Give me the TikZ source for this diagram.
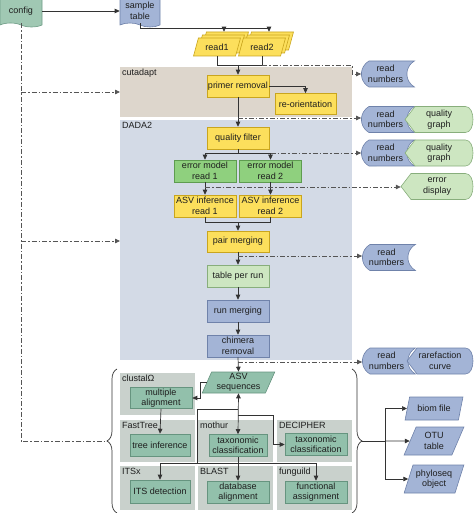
\documentclass[tikz,border=0pt]{standalone}
\usepackage{fontspec}
\setmainfont{Liberation Sans}
\usetikzlibrary{arrows.meta,shapes.geometric,shapes.misc,shapes.symbols,shadows,decorations.pathreplacing,calc}
\definecolor{txt}{HTML}{1E1E1E}
\definecolor{yfill}{HTML}{FCDF5C}
\definecolor{ydraw}{HTML}{C9A51E}
\definecolor{gfill}{HTML}{8FD07E}
\definecolor{gdraw}{HTML}{5E9C50}
\definecolor{lgfill}{HTML}{CDE6C1}
\definecolor{lgdraw}{HTML}{88AE7C}
\definecolor{bfill}{HTML}{A3B4D6}
\definecolor{bdraw}{HTML}{6F82AA}
\definecolor{tfill}{HTML}{92C0AB}
\definecolor{tdraw}{HTML}{66947F}
\definecolor{pfill}{HTML}{C9D1CC}
\definecolor{cutbg}{HTML}{DDD6CC}
\definecolor{dadabg}{HTML}{D3DAE6}
\definecolor{cfill}{HTML}{A0C8B3}
\definecolor{cdraw}{HTML}{6E9C86}
\definecolor{lc}{HTML}{333333}
\definecolor{dc}{HTML}{555555}
% display shape: name, cx, cy, half width, style, text
\newcommand\dispnode[6]{%
  \draw[#5, shift={(#2,#3)}] (-#4,0) -- (-#4+10,-13) -- (#4-7.5,-13)
     .. controls (#4+2.5,-13) and (#4+2.5,13) .. (#4-7.5,13) -- (-#4+10,13) -- cycle;
  \node[align=center, minimum width={(2*#4)*1pt}, minimum height=26pt, inner sep=0pt] (#1) at (#2,#3) {#6};}
\begin{document}
\begin{tikzpicture}[x=1pt,y=-1pt,
  every node/.style={font=\fontsize{9}{10.5}\selectfont, text=txt},
  base/.style={rectangle, line width=0.6pt, minimum width=62pt, minimum height=22pt, inner sep=1pt, align=center},
  ybox/.style={base, fill=yfill, draw=ydraw},
  gbox/.style={base, fill=gfill, draw=gdraw},
  lgbox/.style={base, fill=lgfill, draw=lgdraw},
  bbox/.style={base, fill=bfill, draw=bdraw},
  tbox/.style={base, fill=tfill, draw=tdraw},
  region/.style={rectangle, anchor=north west, inner sep=0pt, draw=none},
  panel/.style={region, fill=pfill, minimum width=75pt},
  lab/.style={anchor=north west, inner sep=2pt},
  line/.style={draw=lc, line width=0.7pt},
  arr/.style={line, -{Triangle[length=5pt,width=4.5pt]}},
  dd/.style={draw=dc, line width=0.8pt, dash pattern=on 5pt off 2pt on 1.5pt off 2pt},
  ddarr/.style={dd, -{Triangle[length=5pt,width=4.5pt]}},
  para/.style={trapezium, trapezium left angle=69, trapezium right angle=111, trapezium stretches=true, line width=0.6pt, inner sep=1pt, align=center},
  rn/.style={rounded rectangle, rounded rectangle right arc=concave, rounded rectangle arc length=120, fill=bfill, draw=bdraw, line width=0.6pt, minimum width=55pt, minimum height=26pt, inner sep=1pt, align=center},
  gshape/.style={fill=lgfill, draw=lgdraw, line width=0.6pt},
  bshape/.style={fill=bfill, draw=bdraw, line width=0.6pt},
  doc/.style={tape, tape bend top=none, tape bend bottom=out and in, tape bend height=4pt, line width=0.6pt, align=center, inner sep=1pt},
  brace/.style={line, decorate, decoration={brace, amplitude=10pt}}]
\useasboundingbox (0,0) rectangle (474,513);

% regions
\node[region, fill=cutbg, minimum width=232pt, minimum height=50pt] (cut) at (120,67) {};
\node[lab] (cutl) at (cut.north west) {cutadapt};
\node[region, fill=dadabg, minimum width=232pt, minimum height=240pt] (dada) at (120,120) {};
\node[lab] (dadal) at (dada.north west) {DADA2};

\node[panel, minimum height=42pt] (pclu) at (120,373) {};
\node[lab] at (pclu.north west) {clustalΩ};
\node[panel, minimum height=42pt] (pft) at (120,420) {};
\node[lab] at (pft.north west) {FastTree};
\node[panel, minimum height=44pt] (pits) at (120,466) {};
\node[lab] at (pits.north west) {ITSx};
\node[panel, minimum height=42pt] (pmo) at (198,420) {};
\node[lab] at (pmo.north west) {mothur};
\node[panel, minimum height=44pt] (pbl) at (198,466) {};
\node[lab] at (pbl.north west) {BLAST};
\node[panel, minimum height=42pt] (pde) at (277,420) {};
\node[lab] at (pde.north west) {DECIPHER};
\node[panel, minimum height=44pt] (pfu) at (277,466) {};
\node[lab] at (pfu.north west) {funguild};

% top
\node[doc, fill=cfill, draw=cdraw, minimum width=42pt, minimum height=28pt] (config) at (21,11) {config};
\node[doc, fill=bfill, draw=bdraw, minimum width=40pt, minimum height=28pt] (st) at (140,11) {sample\\table};
\node[para, fill=yfill, draw=ydraw, minimum width=47pt, minimum height=18pt,
  double copy shadow={shadow xshift=4pt, shadow yshift=3pt, fill=yfill, draw=ydraw}] (r1) at (217,47) {read1};
\node[para, fill=yfill, draw=ydraw, minimum width=47pt, minimum height=18pt,
  double copy shadow={shadow xshift=4pt, shadow yshift=3pt, fill=yfill, draw=ydraw}] (r2) at (262,47) {read2};

% main column
\node[ybox] (primer) at (238,86) {primer removal};
\node[ybox, minimum width=61pt, minimum height=21pt] (reor) at (305.5,104) {re-orientation};
\node[ybox] (qf) at (238,138) {quality filter};
\node[gbox] (em1) at (205,171) {error model\\read 1};
\node[gbox] (em2) at (270.5,171) {error model\\read 2};
\node[ybox] (ai1) at (205,206) {ASV inference\\read 1};
\node[ybox] (ai2) at (270.5,206) {ASV inference\\read 2};
\node[ybox, minimum height=21pt] (pm) at (238,241.5) {pair merging};
\node[lgbox] (tpr) at (238,276) {table per run};
\node[bbox] (rm) at (238,311) {run merging};
\node[bbox] (cr) at (238,346) {chimera\\removal};

% bottom tools
\node[para, fill=tfill, draw=tdraw, minimum width=73pt, minimum height=21pt] (asv) at (238.5,382.5) {ASV\\sequences};
\node[tbox, minimum height=21pt] (ma) at (161,398) {multiple\\alignment};
\node[tbox, minimum width=60pt] (ti) at (160,445) {tree inference};
\node[tbox, minimum width=60pt, minimum height=23pt] (its) at (160,491.5) {ITS detection};
\node[tbox, minimum width=58pt] (tcm) at (238,445.5) {taxonomic\\classification};
\node[tbox] (da) at (238,492) {database\\alignment};
\node[tbox] (tcd) at (316,444.5) {taxonomic\\classification};
\node[tbox] (fa) at (316,492) {functional\\assignment};

% outputs
\node[para, fill=bfill, draw=bdraw, minimum width=58pt, minimum height=23pt] (biom) at (434,408.5) {biom file};
\node[para, fill=bfill, draw=bdraw, minimum width=60pt, minimum height=28pt] (otu) at (434,441) {OTU\\table};
\node[para, fill=bfill, draw=bdraw, minimum width=60pt, minimum height=28pt] (phy) at (434,479) {phyloseq\\object};

% right side stored data / displays
\node[rn] (rn1) at (385.5,74) {read\\numbers};
\node[rn] (rn2) at (385.5,119.5) {read\\numbers};
\dispnode{qg1}{439}{119.5}{34}{gshape}{quality\\graph}
\node[rn] (rn3) at (385.5,153) {read\\numbers};
\dispnode{qg2}{439}{153}{34}{gshape}{quality\\graph}
\dispnode{ed}{437}{186.5}{36}{gshape}{error\\display}
\node[rn] (rn4) at (386.5,257.5) {read\\numbers};
\node[rn] (rn5) at (386.5,361) {read\\numbers};
\dispnode{rc}{440}{361}{33}{bshape}{rarefaction\\curve}

% solid connectors
\draw[arr] (config.east) -- (st.west);
\coordinate (r1t) at ($(r1.north)+(7,-6)$);
\coordinate (r2t) at ($(r2.north)+(7,-6)$);
\draw[line] (st.south) |- (r2t |- 0,28);
\draw[arr] (r1t |- 0,28) -- (r1t);
\draw[arr] (r2t |- 0,28) -- (r2t);
\draw[line] (r1.south) |- (r2.south |- 0,65) -- (r2.south);
\draw[arr] (primer.north |- 0,65) -- (primer.north);
\draw[arr] (primer.east) -| (reor.north);
\draw[arr] (primer.south) -- (qf.north);
\draw[line] (qf.south) -- (qf.south |- 0,153);
\draw[arr] (qf.south |- 0,153) -| (em1.north);
\draw[arr] (qf.south |- 0,153) -| (em2.north);
\draw[arr] (em1.south) -- (ai1.north);
\draw[arr] (em2.south) -- (ai2.north);
\draw[line] (ai1.south) |- (ai2.south |- 0,222) -- (ai2.south);
\draw[arr] (pm.north |- 0,222) -- (pm.north);
\draw[arr] (pm.south) -- (tpr.north);
\draw[arr] (tpr.south) -- (rm.north);
\draw[arr] (rm.south) -- (cr.north);
\draw[arr] (cr.south) -- (asv.north);

% bottom connectors
\draw[arr] (asv.west) -- ++(-6,0) |- (ma.east);
\draw[arr] (ma.south) -- (ti.north);
\draw[{Triangle[length=5pt,width=4.5pt]}-{Triangle[length=5pt,width=4.5pt]}, line] (asv.south) -- (tcm.north);
\draw[arr] (tcm.south) -- (da.north);
\draw[line] (tcm.north |- 0,409) -| (197,463);
\draw[arr] (197,463) -| (its.north);
\draw[arr] (197,463) -| (fa.north);
\draw[arr] (tcm.north |- 0,415) -- (273,415) |- (tcd.west);

% braces and outputs
\draw[brace] (117,513) -- (117,369);
\draw[brace] (352,369) -- (352,513);
\coordinate (lbt) at (107,441);
\coordinate (rbt) at (362,441);
\coordinate (sp) at (385,441);
\draw[line] (rbt) -- (sp);
\draw[arr] (sp) |- (biom.west);
\draw[arr] (sp) -- (otu.west);
\draw[arr] (sp) |- (phy.west);

% dash-dot connectors
\draw[dd] (config.south) -- (config.south |- lbt) -- (lbt);
\draw[ddarr] (config.south |- 0,92) -- (cut.west |- 0,92);
\draw[ddarr] (config.south |- 0,241) -- (dada.west |- 0,241);
\draw[ddarr] (r2.south |- 0,65) -- (352,65) |- (rn1.west);
\draw[ddarr] (primer.south |- 0,118) -- (rn2.west |- 0,118);
\draw[ddarr] (em2.north |- 0,153) -- (rn3.west);
\draw[ddarr] (em1.south |- 0,187) -- (ed.west |- 0,187);
\draw[ddarr] (pm.south |- 0,256) -- (rn4.west |- 0,256);
\draw[ddarr] (cr.south |- 0,362) -- (rn5.west |- 0,362);
\end{tikzpicture}
\end{document}
